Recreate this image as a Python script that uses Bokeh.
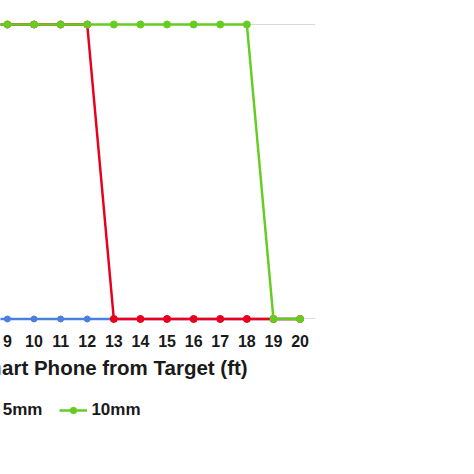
from bokeh.plotting import figure
from bokeh.models import FixedTicker, Label, Legend, LegendItem, Range1d
from bokeh.embed import file_html
from bokeh.resources import INLINE

# data
distance_ft = [8, 9, 10, 11, 12, 13, 14, 15, 16, 17, 18, 19, 20]
series_names = ["2mm", "5mm", "10mm"]
blue_vals = [0, 0, 0, 0, 0, 0, 0, 0, 0, 0, 0, 0, 0]
red_vals = [1, 1, 1, 1, 1, 0, 0, 0, 0, 0, 0, 0, 0]
green_vals = [1, 1, 1, 1, 1, 1, 1, 1, 1, 1, 1, 0, 0]
tick_values = [9, 10, 11, 12, 13, 14, 15, 16, 17, 18, 19, 20]
x_title = "Distance of Smart Phone from Target (ft)"

colors = ["#4a7fe0", "#e8001c", "#66cc22"]
FONT = "Liberation Sans"

p = figure(width=338, height=472, frame_width=315, frame_height=426,
           output_backend="svg", toolbar_location=None,
           y_axis_location=None,
           x_range=Range1d(8.74, 20.58), y_range=Range1d(-0.4126, 1.034),
           min_border_left=8, min_border_right=15, min_border_top=22, min_border_bottom=0)
p.margin = (-8, 0, 0, -8)
p.outline_line_color = None
p.background_fill_color = "white"
p.border_fill_color = "white"

p.xgrid.visible = False
p.ygrid.ticker = FixedTicker(ticks=[0, 1])
p.ygrid.grid_line_color = "#d9d9d9"
p.ygrid.grid_line_width = 1

p.xaxis.fixed_location = -0.02
p.xaxis.ticker = FixedTicker(ticks=tick_values)
p.xaxis.axis_line_color = None
p.xaxis.major_tick_line_color = None
p.xaxis.minor_tick_line_color = None
p.xaxis.major_label_standoff = 4
p.xaxis.major_label_text_font = FONT
p.xaxis.major_label_text_font_style = "bold"
p.xaxis.major_label_text_font_size = "16px"
p.xaxis.major_label_text_color = "#1a1a1a"

items = []
for name, vals, col, ms in zip(series_names, [blue_vals, red_vals, green_vals], colors, [6, 7, 7]):
    r1 = p.line(distance_ft, vals, line_color=col, line_width=2.5)
    r2 = p.scatter(distance_ft, vals, size=ms, fill_color=col, line_color=col)
    items.append(LegendItem(label=name, renderers=[r1, r2]))

title = Label(x=18.03, y=-0.165, text=x_title, text_align="right", text_baseline="middle",
              text_font=FONT, text_font_style="bold", text_font_size="20.5px", text_color="#1a1a1a")
p.add_layout(title)

legend = Legend(items=items, location=(-118, 20), orientation="horizontal",
                glyph_width=28, glyph_height=16, label_standoff=4, spacing=17,
                padding=0, margin=0, border_line_alpha=0, background_fill_alpha=0,
                label_text_font=FONT, label_text_font_style="bold",
                label_text_font_size="17px", label_text_color="#1a1a1a")
p.add_layout(legend, "center")

open("out.html", "w").write(file_html(p, INLINE))
